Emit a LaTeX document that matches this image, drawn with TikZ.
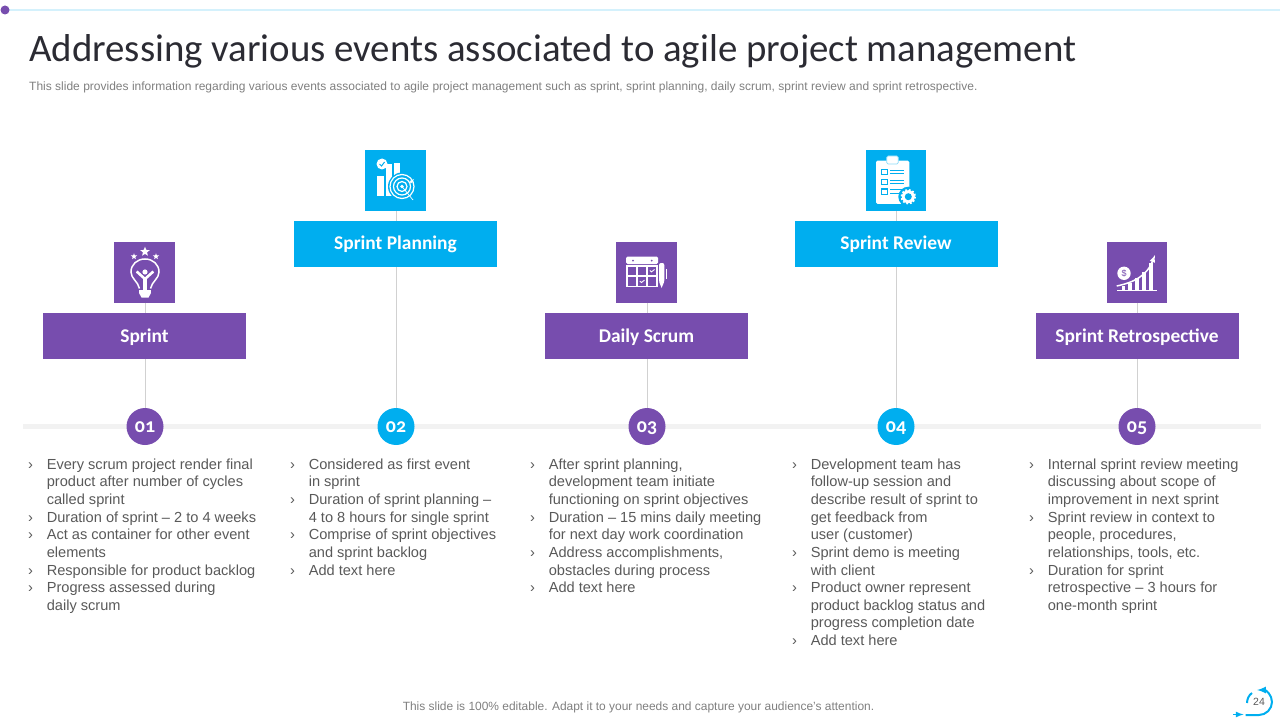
\documentclass[tikz,border=0pt]{standalone}
\usepackage{fontspec}
\usepackage{tikz}
\usetikzlibrary{shapes.geometric}
\setmainfont{Liberation Sans}
\newfontfamily\headfont{Carlito}
\newfontfamily\numfont[Numbers=OldStyle]{Carlito}
\definecolor{sprintpurple}{HTML}{774DAE}
\definecolor{sprintblue}{HTML}{00AEEF}
\definecolor{bodygray}{HTML}{595959}
\definecolor{titlegray}{HTML}{2B2B33}
\definecolor{notegray}{HTML}{7F7F7F}
\newcommand{\bl}{\makebox[18.6bp][l]{›}}
\newcommand{\nb}{\hspace*{18.6bp}}
\tikzset{
  barbox/.style={minimum width=203bp,minimum height=46bp,inner sep=0pt,text=white,
    text height=14bp,text depth=2bp,
    font=\headfont\bfseries\fontsize{19.5}{22}\selectfont},
  iconbox/.style={minimum width=60.5bp,minimum height=60.5bp,inner sep=0pt},
  numdot/.style={circle,minimum size=37bp,inner sep=0pt,text=white,
    text height=12bp,text depth=1bp,
    font=\numfont\bfseries\fontsize{20}{22}\selectfont},
  stem/.style={draw=black!18,line width=0.8pt},
  bodytext/.style={anchor=north west,align=left,inner sep=0pt,text=bodygray,
    font=\fontsize{14.65}{17.72}\selectfont},
  smallstar/.style={star,star points=5,star point ratio=2.3,fill=white,inner sep=0pt}
}
\begin{document}
\begin{tikzpicture}[x=1bp,y=-1bp]
  \useasboundingbox (0,0) rectangle (1280,720);

  %header
  \coordinate (rule start) at (5,10);
  \coordinate (rule end) at (1280,10);
  \draw[color=sprintblue!17,line width=1.6pt] (rule start) -- (rule end);
  \fill[sprintpurple] (rule start) circle (4.5);
  \node[anchor=west,inner sep=0pt,text=titlegray,font=\headfont\fontsize{39}{44}\selectfont] (title) at (29,51)
    {Addressing various events associated to agile project management};
  \node[anchor=west,inner sep=0pt,text=notegray,font=\fontsize{12.06}{14}\selectfont] (subtitle) at (29,87)
    {This slide provides information regarding various events associated to agile project management such as sprint, sprint planning, daily scrum, sprint review and sprint retrospective.};

  %timeline
  \coordinate (line start) at (23,426.5);
  \coordinate (line end) at (1261,426.5);
  \draw[color=black!5,line width=5bp] (line start) -- (line end);

  %columns
  \foreach \x/\d/\y/\col/\lab/\num in {
      144.5/145/336/sprintpurple/Sprint/01,
      395.5/396/244/sprintblue/Sprint Planning/02,
      646.5/647/336/sprintpurple/Daily Scrum/03,
      896/896/244/sprintblue/Sprint Review/04,
      1137/1137/336/sprintpurple/Sprint Retrospective/05}
  {
      \node[iconbox,fill=\col] (icon\num) at (\x,\y-63.5) {};
      \node[barbox,fill=\col] (bar\num) at (\x,\y) {\lab};
      \node[numdot,fill=\col] (dot\num) at (\d,426.5) {\num};
      \draw[stem] (dot\num |- icon\num.south) -- (dot\num |- bar\num.north);
      \draw[stem] (dot\num |- bar\num.south) -- (dot\num.north);
  }

  %lightbulb
  \begin{scope}[shift={(145,272.5)}]
      \draw[white,line width=1.5bp] (-5.5,16) .. controls (-7,9) and (-14,6) .. (-14,-0.5)
          .. controls (-14,-8) and (-8,-13.5) .. (0,-13.5)
          .. controls (8,-13.5) and (14,-8) .. (14,-0.5)
          .. controls (14,6) and (7,9) .. (5.5,16);
      \fill[white] (-6,17.5) rectangle (6,20.5);
      \fill[white] (-6,20.5) -- (6,20.5) -- (3.5,25) -- (-3.5,25) -- cycle;
      \fill[white] (0,-0.5) circle (2.6);
      \draw[white,line width=2.6bp] (-8.3,-1) -- (0,6.5) -- (8.3,-1);
      \draw[white,line width=4.6bp] (0,5) -- (0,17);
      \node[smallstar,minimum size=10bp] (bulb star a) at (0,-20.8) {};
      \node[smallstar,minimum size=6.5bp] (bulb star b) at (-11,-16) {};
      \node[smallstar,minimum size=6.5bp] (bulb star c) at (11,-16) {};
  \end{scope}

  %bars and target
  \begin{scope}[shift={(396,180)}]
      \fill[white] (-19,-3.5) rectangle (-12.5,16.5);
      \fill[white] (-10.5,-16) rectangle (-4.5,16.5);
      \fill[white] (-2,-17) rectangle (4,8);
      \fill[white] (-14,-16) circle (5.5);
      \draw[sprintblue,line width=1bp] (-16.5,-16) -- (-14.5,-14) -- (-11.5,-18);
      \fill[sprintblue] (6,6.5) circle (14);
      \foreach \r in {12,8.5,5}
          \draw[white,line width=1.2bp] (6,6.5) circle (\r);
      \fill[white] (6,6.5) circle (1.8);
      \draw[white,line width=0.7bp] (6,6.5) -- (17,20);
      \draw[white,line width=0.6bp,-latex] (14,3) -- (18,-1);
  \end{scope}

  %calendar and pen
  \begin{scope}[shift={(646.5,272.5)}]
      \fill[white,rounded corners=1.5bp] (-20.5,-16) rectangle (11.5,-8.5);
      \fill[white] (-20.5,-7.5) rectangle (11.5,14.5);
      \fill[sprintpurple] (-13.5,-11.8) circle (1);
      \fill[sprintpurple] (5.2,-11.8) circle (1);
      \foreach \cx in {-18.5,-8.5,1.5}
          \foreach \cy in {-5.7,4.9}
              \fill[sprintpurple] (\cx,\cy) rectangle +(8,8.3);
      \draw[white,line width=0.9bp] (3.3,-2) -- (5,-0.6) -- (8,-3);
      \draw[white,line width=0.9bp] (-6.7,8.6) -- (-5,10) -- (-2,7.6);
      \fill[white,rounded corners=2bp] (12.5,-9.5) rectangle (17.8,10);
      \fill[white] (12.5,9) -- (17.8,9) -- (15.1,15.5) -- cycle;
      \draw[white,line width=0.8bp] (20,-3.5) -- (20,6);
  \end{scope}

  %clipboard and gear
  \begin{scope}[shift={(896,180)}]
      \fill[white,rounded corners=1.5bp] (-20,-19.3) rectangle (13.3,24);
      \fill[white,draw=sprintblue!45,line width=0.7bp,rounded corners=1.5bp] (-9.3,-24) rectangle (2.3,-16);
      \foreach \cy in {-10.7,-0.7,9}
      {
          \draw[sprintblue,line width=1.1bp] (-14.3,\cy) rectangle +(5.6,5.4);
          \draw[sprintblue,line width=0.9bp] (-6,\cy+0.8) -- (8,\cy+0.8);
          \draw[sprintblue,line width=0.9bp] (-6,\cy+4.2) -- (8,\cy+4.2);
      }
      \fill[sprintblue] (12.3,16.7) circle (10);
      \draw[white,line width=1.8bp,dash pattern=on 1.8bp off 1.8bp] (12.3,16.7) circle (6.8);
      \fill[white] (12.3,16.7) circle (6.5);
      \fill[sprintblue] (12.3,16.7) circle (3.5);
  \end{scope}

  %growth chart
  \begin{scope}[shift={(1137,272.5)}]
      \foreach \bx/\by in {-15.5/13.5,-9/10,-2/5.5,5/-1,12/-9.5}
          \fill[white] (\bx,17.5) rectangle (\bx+3.6,\by);
      \fill[white] (-20.5,17) rectangle (19.5,17.8);
      \fill[white] (-13,0.8) circle (6.7);
      \node[inner sep=0pt,text=sprintpurple,font=\fontsize{9}{9}\selectfont] (coin sign) at (-13,0.8) {\$};
      \draw[white,line width=1.5bp,-latex] (-20.3,13.5) .. controls (-3,10) and (10,3) .. (18,-17.5);
  \end{scope}

  %bullet lists
  \node[bodytext] (list01) at (28,458.3) {%
    \bl Every scrum project render final\\
    \nb product after number of cycles\\
    \nb called sprint\\
    \bl Duration of sprint -- 2 to 4 weeks\\
    \bl Act as container for other event\\
    \nb elements\\
    \bl Responsible for product backlog\\
    \bl Progress assessed during\\
    \nb daily scrum};
  \node[bodytext] (list02) at (290,458.3) {%
    \bl Considered as first event\\
    \nb in sprint\\
    \bl Duration of sprint planning --\\
    \nb 4 to 8 hours for single sprint\\
    \bl Comprise of sprint objectives\\
    \nb and sprint backlog\\
    \bl Add text here};
  \node[bodytext] (list03) at (530,458.3) {%
    \bl After sprint planning,\\
    \nb development team initiate\\
    \nb functioning on sprint objectives\\
    \bl Duration -- 15 mins daily meeting\\
    \nb for next day work coordination\\
    \bl Address accomplishments,\\
    \nb obstacles during process\\
    \bl Add text here};
  \node[bodytext] (list04) at (792,458.3) {%
    \bl Development team has\\
    \nb follow-up session and\\
    \nb describe result of sprint to\\
    \nb get feedback from\\
    \nb user (customer)\\
    \bl Sprint demo is meeting\\
    \nb with client\\
    \bl Product owner represent\\
    \nb product backlog status and\\
    \nb progress completion date\\
    \bl Add text here};
  \node[bodytext] (list05) at (1029,458.3) {%
    \bl Internal sprint review meeting\\
    \nb discussing about scope of\\
    \nb improvement in next sprint\\
    \bl Sprint review in context to\\
    \nb people, procedures,\\
    \nb relationships, tools, etc.\\
    \bl Duration for sprint\\
    \nb retrospective -- 3 hours for\\
    \nb one-month sprint};

  %footer
  \node[inner sep=0pt,text=notegray,font=\fontsize{12}{14}\selectfont] (footer) at (638.5,707)
    {This slide is 100\% editable. Adapt it to your needs and capture your audience's attention.};
  \node[inner sep=0pt,text=bodygray,font=\fontsize{10.5}{12}\selectfont] (page number) at (1259,702) {24};
  \coordinate (arrow tail) at (1233,714.5);
  \coordinate (arrow head) at (1243.5,714.5);
  \draw[sprintblue,line width=1.6bp,-latex] (arrow tail) -- (arrow head);
  \draw[sprintblue,line width=2bp,-latex] (1245.5,715) -- (1259,715)
      .. controls (1266,715) and (1272,709) .. (1272,702)
      .. controls (1272,695) and (1266,690) .. (1257,690);
  \draw[sprintblue,line width=2bp] (1252,693) .. controls (1249,695) and (1247,699) .. (1247,703);
\end{tikzpicture}
\end{document}
